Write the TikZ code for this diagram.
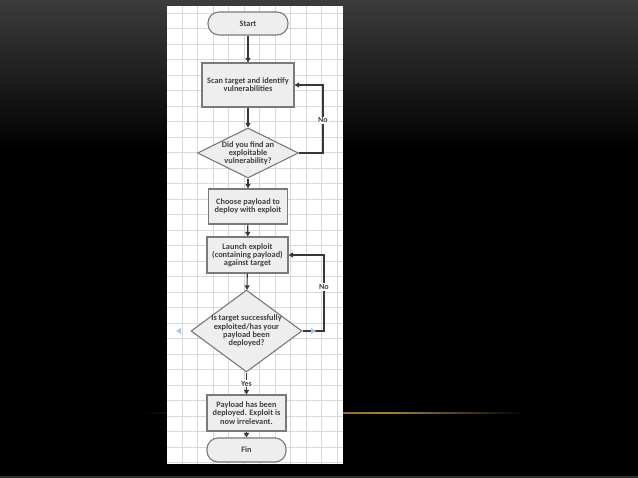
\documentclass[tikz,border=0pt]{standalone}
\usepackage{fontspec}
\setmainfont{Carlito}
\usetikzlibrary{shapes.geometric,arrows.meta}
\definecolor{bgtop}{HTML}{3C3C3C}
\definecolor{gold}{HTML}{A88444}
\definecolor{gridc}{HTML}{D9D9D9}
\definecolor{shapefill}{HTML}{EEEEEE}
\definecolor{shapeline}{HTML}{7A7A7A}
\definecolor{txt}{HTML}{404040}
\definecolor{conn}{HTML}{383838}
\definecolor{marker}{HTML}{A8C8E8}
\tikzset{
  base/.style={draw=shapeline, fill=shapefill, line width=1.1pt, inner sep=0pt},
  stepbox/.style={base, rectangle},
  term/.style={base, rectangle, rounded corners=11pt},
  decis/.style={base, diamond},
  lbl/.style={font=\bfseries\fontsize{8.3}{8.2}\selectfont, text=txt, align=center},
  flow/.style={draw=conn, line width=1.1pt, -{Triangle[width=5pt,length=4.5pt]}},
  tag/.style={font=\bfseries\fontsize{8}{8}\selectfont, text=txt, fill=white, inner sep=1pt},
}
\begin{document}
\begin{tikzpicture}[x=1pt,y=-1pt]
\useasboundingbox (0,0) rectangle (638,478);
% background
\shade[top color=bgtop, bottom color=black] (0,0) rectangle (638,150);
\fill[black] (0,150) rectangle (638,478);
\fill[black!82] (0,476.5) rectangle (638,478);
% gold rule
\shade[left color=black, right color=gold] (140,412.3) rectangle (385,413.9);
\shade[left color=gold, right color=black] (385,412.3) rectangle (525,413.9);
% panel
\fill[white] (167,6) rectangle (343,464);
\foreach \k in {0,...,10} \draw[gridc, line width=0.6pt] (182+15.5*\k,6) -- (182+15.5*\k,464);
\foreach \k in {0,...,29} \draw[gridc, line width=0.6pt] (167,13+15.5*\k) -- (343,13+15.5*\k);
% nodes
\node[term, minimum width=80pt, minimum height=23pt] (start) at (248,23.5) {};
\node[lbl] (starttxt) at (start) {Start};
\node[stepbox, minimum width=92pt, minimum height=44pt] (scan) at (248,85) {};
\node[lbl] (scantxt) at (scan) {Scan target and identify\\vulnerabilities};
\node[decis, minimum width=101pt, minimum height=50pt] (d1) at (248,153) {};
\node[lbl] (d1txt) at (d1) {Did you find an\\exploitable\\vulnerability?};
\node[stepbox, minimum width=79pt, minimum height=35pt] (choose) at (248,206.5) {};
\node[lbl] (choosetxt) at (choose) {Choose payload to\\deploy with exploit};
\node[stepbox, minimum width=81pt, minimum height=36pt] (launch) at (247.5,255) {};
\node[lbl] (launchtxt) at (launch) {Launch exploit\\(containing payload)\\against target};
\node[decis, minimum width=111pt, minimum height=82pt] (d2) at (246.5,331) {};
\node[lbl] (d2txt) at (d2) {Is target successfully\\exploited/has your\\payload been\\deployed?};
\node[stepbox, minimum width=79pt, minimum height=36pt] (payload) at (246.5,413) {};
\node[lbl] (payloadtxt) at (payload) {Payload has been\\deployed. Exploit is\\now irrelevant.};
\node[term, minimum width=79pt, minimum height=24pt] (fin) at (246.5,450) {};
\node[lbl] (fintxt) at (fin) {Fin};
% connectors
\coordinate (n1) at (323,153);
\coordinate (n2) at (324,331);
\draw[flow] (start) -- (scan);
\draw[flow] (scan) -- (d1);
\draw[flow] (d1.east) -- (n1) |- node[tag, pos=0.24] (no1) {No} (scan.east);
\draw[flow] (d1) -- (choose);
\draw[flow] (choose) -- (launch);
\draw[flow] (launch) -- (d2);
\draw[flow] (d2.east) -- (n2) |- node[tag, pos=0.29] (no2) {No} (launch.east);
\draw[flow] (d2) -- node[tag] (yes) {Yes} (payload);
\draw[flow] (payload) -- (fin);
% connection markers
\fill[marker] (176,331) -- (181,328) -- (181,334) -- cycle;
\fill[marker] (316,331) -- (311,328) -- (311,334) -- cycle;
\end{tikzpicture}
\end{document}
